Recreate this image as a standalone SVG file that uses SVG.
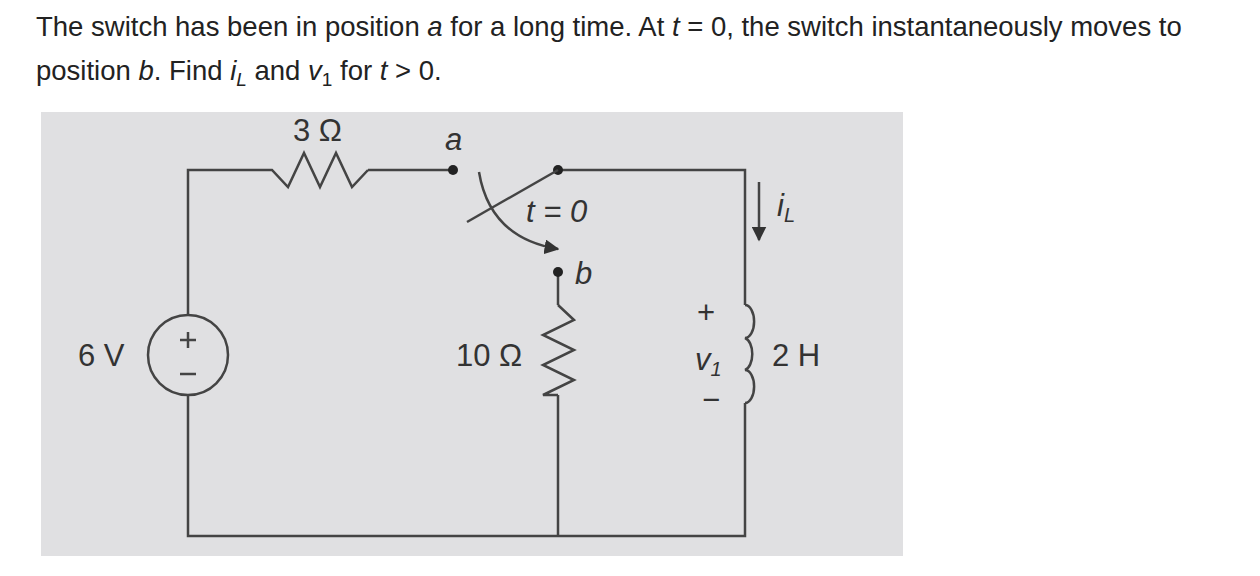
<svg xmlns="http://www.w3.org/2000/svg" width="1260" height="576" viewBox="0 0 1260 576">
<defs>
<style>
.w{fill:none;stroke:#444;stroke-width:2.5}
.t{font-family:"Liberation Sans",Arial,sans-serif;fill:#222}
.q{font-family:"Liberation Sans",Arial,sans-serif;fill:#333;font-size:31px}
</style>
<marker id="ah" viewBox="0 0 10 10" refX="9" refY="5" markerWidth="6" markerHeight="6" orient="auto"><path d="M0,0L10,5L0,10z" fill="#333"/></marker>
</defs>
<rect width="1260" height="576" fill="#fff"/>
<text class="t" x="36" y="36" font-size="27.5">The switch has been in position <tspan font-style="italic">a</tspan> for a long time. At <tspan font-style="italic">t</tspan> = 0, the switch instantaneously moves to</text>
<text class="t" x="36" y="80" font-size="27.5">position <tspan font-style="italic">b</tspan>. Find <tspan font-style="italic">i</tspan><tspan font-size="19" dy="6" font-style="italic">L</tspan><tspan dy="-6"> and </tspan><tspan font-style="italic">v</tspan><tspan font-size="19" dy="6">1</tspan><tspan dy="-6"> for </tspan><tspan font-style="italic">t</tspan> &gt; 0.</text>
<rect x="41" y="112" width="862" height="444" fill="#e0e0e2"/>
<g id="connectors">
<path class="w" d="M247,170H188V315M188,395V536H745V403M745,305V170H558M558,272V305M558,395V536M368,170H453"/>
</g>
<g id="r3"><path class="w" d="M247,170H272L288,187L304,153L320,187L336,153L352,187L368,170"/><text class="q" x="293" y="141">3 Ω</text></g>
<g id="sw">
<circle cx="453" cy="170" r="5" fill="#222"/><circle cx="558" cy="170" r="5" fill="#222"/><circle cx="558" cy="272" r="5" fill="#222"/>
<path class="w" d="M558,170L467,222" stroke-width="2"/>
<path class="w" d="M479,172Q490,238 558,249" stroke-width="2" marker-end="url(#ah)"/>
<text class="q" x="445" y="150" font-style="italic">a</text>
<text class="q" x="575" y="284" font-style="italic">b</text>
<text class="q" x="526" y="222" font-style="italic">t = 0</text>
</g>
<g id="r10"><path class="w" d="M558,305L574,320L543,335L574,350L543,365L574,380L543,395L558,395"/><text class="q" x="456" y="366">10 Ω</text></g>
<g id="src"><circle class="w" cx="188" cy="355" r="40"/><path class="w" d="M180,340H196M188,332V348M180,374H196" stroke-width="2"/><text class="q" x="78" y="366">6 V</text></g>
<g id="ind"><path class="w" d="M745,305A9,16.3 0 0 1 745,338A9,16.3 0 0 1 745,370A9,16.3 0 0 1 745,403"/>
<text class="q" x="772" y="366">2 H</text>
<text class="q" x="697" y="323">+</text><text class="q" x="695" y="370" font-style="italic">v<tspan font-size="20" dy="6">1</tspan></text><text class="q" x="702" y="410">−</text>
<path class="w" d="M759,182V240" stroke-width="1.8" marker-end="url(#ah)"/>
<text class="q" x="777" y="216" font-style="italic">i<tspan font-size="20" dy="6">L</tspan></text>
</g>
</svg>
